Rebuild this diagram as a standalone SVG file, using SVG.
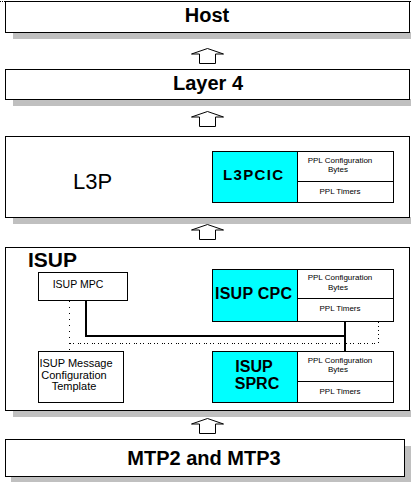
<svg xmlns="http://www.w3.org/2000/svg" width="411" height="482" viewBox="0 0 411 482">
<style>
.box{fill:#fff;stroke:#000;stroke-width:1}
.shadow{fill:#c0c0c0;stroke:none}
.cyan{fill:#00ffff;stroke:#000;stroke-width:1}
.cell{fill:#fff;stroke:#000;stroke-width:1}
.arrow{fill:#fff;stroke:#000;stroke-width:1}
text{font-family:"Liberation Sans",Arial,sans-serif;fill:#000}
.big{font-size:20px;font-weight:bold;text-anchor:middle}
.small{font-size:8px;text-anchor:middle}
.mid{font-size:16px;font-weight:bold;text-anchor:middle}
.reg{font-size:11px;text-anchor:middle}
.dot{fill:none;stroke:#000;stroke-width:1}
.thick{fill:none;stroke:#000;stroke-width:2}
</style>
<defs>
<path id="arr" d="M0,0 L16,5.5 L8,5.5 L8,15 L-8,15 L-8,5.5 L-16,5.5 Z"/>
</defs>
<rect width="411" height="482" fill="#fff"/>

<g id="host">
<rect class="shadow" x="13" y="32" width="405" height="7"/>
<rect class="box" x="5.5" y="1.5" width="404" height="31"/>
<line class="dot" x1="0" y1="1.5" x2="411" y2="1.5" stroke-dasharray="1 1"/>
<text class="big" x="207" y="22">Host</text>
</g>

<g id="layer4">
<rect class="shadow" x="13" y="99" width="405" height="7"/>
<rect class="box" x="5.5" y="69.5" width="404" height="30"/>
<text class="big" x="208" y="90">Layer 4</text>
</g>

<g id="l3p">
<rect class="shadow" x="13" y="217" width="405" height="7"/>
<rect class="box" x="5.5" y="136.5" width="404" height="81"/>
<text x="73" y="189" style="font-size:22px">L3P</text>
</g>

<g id="l3pcic">
<rect class="cyan" x="212.5" y="151.5" width="85" height="51"/>
<text class="mid" x="253" y="180" style="font-size:15px" textLength="60" lengthAdjust="spacing">L3PCIC</text>
<rect class="cell" x="297.5" y="151.5" width="96" height="51"/>
<line class="dot" x1="297.5" y1="181.5" x2="393.5" y2="181.5"/>
<text class="small" x="340" y="163">PPL Configuration</text>
<text class="small" x="338" y="172">Bytes</text>
<text class="small" x="340" y="194">PPL Timers</text>
</g>

<g id="isup">
<rect class="shadow" x="13" y="410" width="405" height="7"/>
<rect class="box" x="5.5" y="247.5" width="404" height="163"/>
<text x="28" y="267" style="font-size:21px;font-weight:bold">ISUP</text>
</g>

<g id="connectors">
<path class="dot" d="M69.5,301 V351" stroke-dasharray="1 5"/>
<path class="dot" d="M70,343.5 H378" stroke-dasharray="1 2 1 4 1 1 1 3"/>
<path class="dot" d="M378.5,322 V343" stroke-dasharray="1 3"/>
<path class="thick" d="M86,300 V336 H345 M345,321 V351"/>
</g>

<g id="isup-mpc">
<rect class="box" x="38.5" y="272.5" width="89" height="28"/>
<text class="reg" x="78" y="288" style="font-size:10.5px">ISUP MPC</text>
</g>

<g id="isup-cpc">
<rect class="cyan" x="212.5" y="269.5" width="85" height="52"/>
<text class="mid" x="253.5" y="299" textLength="77" lengthAdjust="spacing">ISUP CPC</text>
<rect class="cell" x="297.5" y="269.5" width="96" height="52"/>
<line class="dot" x1="297.5" y1="298.5" x2="393.5" y2="298.5"/>
<text class="small" x="340" y="280">PPL Configuration</text>
<text class="small" x="338" y="289.5">Bytes</text>
<text class="small" x="340" y="311">PPL Timers</text>
</g>

<g id="isup-template">
<rect class="box" x="38.5" y="351.5" width="85" height="51"/>
<text class="reg" x="76" y="367">ISUP Message</text>
<text class="reg" x="74" y="378.5">Configuration</text>
<text class="reg" x="74" y="390">Template</text>
</g>

<g id="isup-sprc">
<rect class="cyan" x="212.5" y="351.5" width="85" height="51"/>
<text class="mid" x="254" y="372">ISUP</text>
<text class="mid" x="257" y="389">SPRC</text>
<rect class="cell" x="297.5" y="351.5" width="96" height="51"/>
<line class="dot" x1="297.5" y1="381.5" x2="393.5" y2="381.5"/>
<text class="small" x="340" y="362.5">PPL Configuration</text>
<text class="small" x="338" y="371.5">Bytes</text>
<text class="small" x="340" y="394">PPL Timers</text>
</g>

<g id="mtp">
<rect class="shadow" x="11" y="446" width="400" height="36"/>
<rect class="box" x="5.5" y="439.5" width="399" height="37"/>
<text class="big" x="204" y="465">MTP2 and MTP3</text>
</g>

<g id="arrows">
<use href="#arr" class="arrow" x="207.5" y="48.5"/>
<use href="#arr" class="arrow" x="207.5" y="111.5"/>
<use href="#arr" class="arrow" x="207.5" y="224.5"/>
<use href="#arr" class="arrow" x="207.5" y="418.5"/>
</g>
</svg>
